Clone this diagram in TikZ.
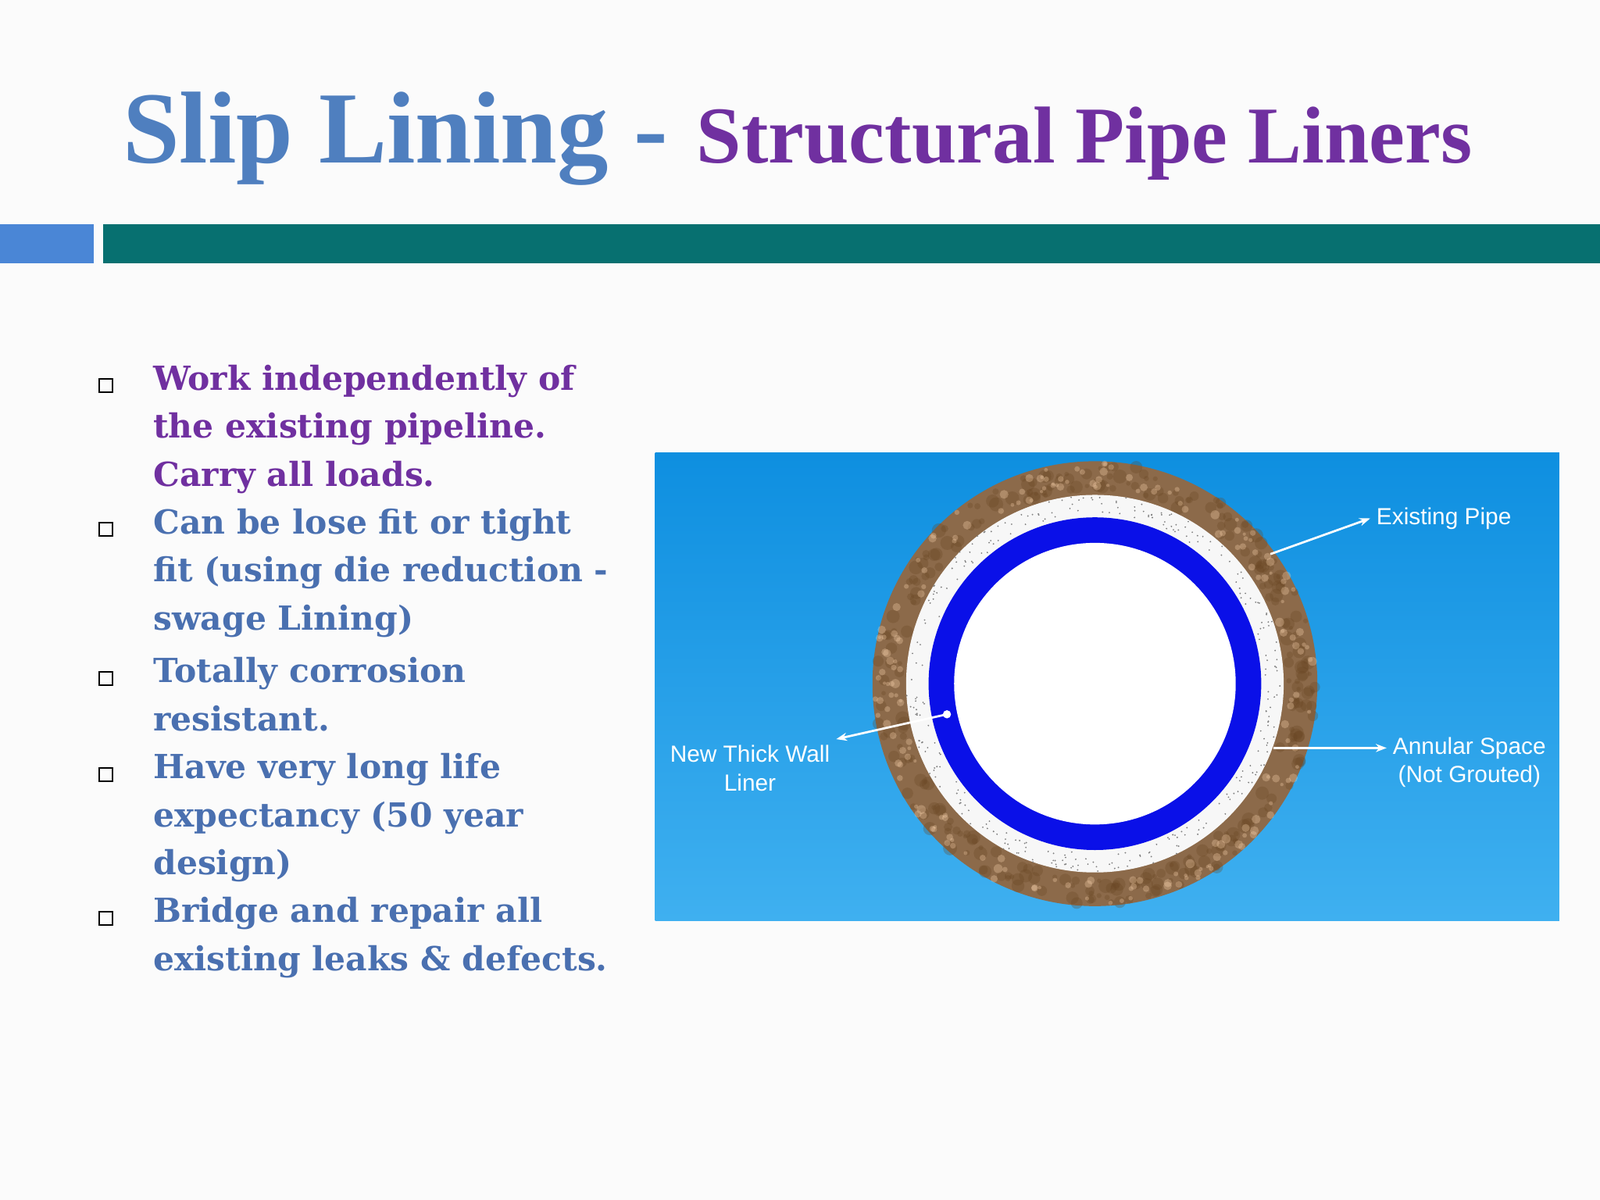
\documentclass[tikz,border=0pt]{standalone}
\usepackage{fontspec}
\setmainfont{Liberation Serif}
\setsansfont{Liberation Sans}
\newfontfamily\bulfont{DejaVu Serif}
\usetikzlibrary{arrows.meta,calc}
\definecolor{tblue}{HTML}{4F7FBF}
\definecolor{tpurple}{HTML}{7030A0}
\definecolor{bteal}{HTML}{077070}
\definecolor{bblue}{HTML}{4A86D6}
\definecolor{txtblue}{HTML}{4A70B0}
\definecolor{skyA}{HTML}{0E8FE0}
\definecolor{skyB}{HTML}{3FB0F0}
\definecolor{dirt}{HTML}{8C6A4A}
\definecolor{liner}{HTML}{0A10E8}
\tikzset{
 bul/.style={draw=black,line width=0.8pt,minimum size=0.26cm,inner sep=0pt},
 btxt/.style={anchor=north west,font=\bulfont\fontsize{18.5}{26.8}\selectfont\bfseries,align=left,inner sep=0pt},
 lab/.style={text=white,font=\sffamily\fontsize{13}{16}\selectfont,align=center},
 arr/.style={white,line width=1.2pt,-{Stealth[length=6pt]}}
}
\begin{document}
\begin{tikzpicture}[x=0.02cm,y=-0.02cm]
\useasboundingbox (0,0) rectangle (1568,1176);
\fill[white!97!gray] (0,0) rectangle (1568,1176);
% title
\node[anchor=base west,inner sep=0pt] (title) at (120,160)
 {\fontsize{57}{60}\selectfont\bfseries\textcolor{tblue}{Slip Lining -}\hspace{16pt}\fontsize{45}{50}\selectfont\textcolor{tpurple}{Structural Pipe Liners}};
% bars
\fill[bblue] (0,220) rectangle (92,258);
\fill[bteal] (101,220) rectangle (1568,258);
% bullets
\foreach \y in {378,519,665,759,900} \node[bul] at (104,\y) {};
\node[btxt,text=tpurple] (t1) at (150,357) {Work independently of\\the existing pipeline.\\Carry all loads.};
\node[btxt,text=txtblue] (t2) at (150,498) {Can be lose fit or tight\\fit (using die reduction -\\swage Lining)};
\node[btxt,text=txtblue] (t3) at (150,644) {Totally corrosion\\resistant.};
\node[btxt,text=txtblue] (t4) at (150,738) {Have very long life\\expectancy (50 year\\design)};
\node[btxt,text=txtblue] (t5) at (150,879) {Bridge and repair all\\existing leaks \& defects.};
% picture
\shade[top color=skyA,bottom color=skyB] (642,444) rectangle (1528,902);
\coordinate (c) at (1073,670);
\fill[dirt] (c) circle (218);
\foreach \i in {1,...,300}{
 \pgfmathsetmacro{\a}{rnd*360}\pgfmathsetmacro{\r}{190+rnd*26}
 \fill[brown!55!black,opacity=0.3] ($(c)+(\a:\r)$) circle (2+rnd*5);}
\foreach \i in {1,...,200}{
 \pgfmathsetmacro{\a}{rnd*360}\pgfmathsetmacro{\r}{190+rnd*26}
 \fill[orange!30!white,opacity=0.3] ($(c)+(\a:\r)$) circle (1.5+rnd*3);}
\fill[white!94!gray] (c) circle (185);
\foreach \i in {1,...,300}{
 \pgfmathsetmacro{\a}{rnd*360}\pgfmathsetmacro{\r}{166+rnd*19}
 \fill[gray] ($(c)+(\a:\r)$) circle (0.8);}
\fill[liner] (c) circle (163);
\fill[white] (c) circle (138);
% labels
\node[lab] (ep) at (1415,508) {Existing Pipe};
\node[lab] (as) at (1440,747) {Annular Space\\(Not Grouted)};
\node[lab] (nl) at (735,753) {New Thick Wall\\Liner};
\coordinate (epS) at (1245,543);
\coordinate (asS) at (1248,733);
\coordinate (nlS) at (928,700);
\fill[white] (nlS) circle (4);
\draw[arr] (epS) -- (ep.west);
\draw[arr] (asS) -- (as.north west |- asS);
\draw[arr] (nlS) -- (nl.north east);
\end{tikzpicture}
\end{document}
